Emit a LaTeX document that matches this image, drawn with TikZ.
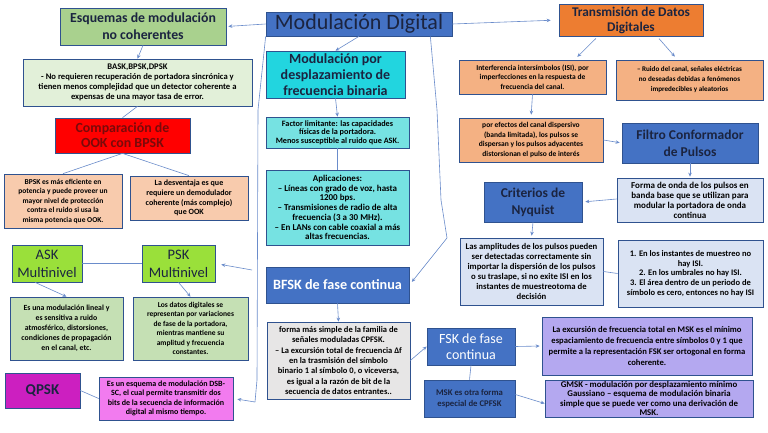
\documentclass[tikz,border=0pt]{standalone}
\usepackage{fontspec}
\setmainfont{Carlito}
\usetikzlibrary{arrows.meta,calc}
\definecolor{blue1}{HTML}{4472C4}
\definecolor{bord}{HTML}{2F528F}
\definecolor{connc}{HTML}{6A8CCB}
\definecolor{green1}{HTML}{A9D18E}
\definecolor{green2}{HTML}{E2F0D9}
\definecolor{green3}{HTML}{C5E0B4}
\definecolor{red1}{HTML}{FF0000}
\definecolor{maroon}{HTML}{7A0A0A}
\definecolor{peach}{HTML}{F8CBAD}
\definecolor{lime}{HTML}{9AE03A}
\definecolor{magenta1}{HTML}{CC1FC0}
\definecolor{pink1}{HTML}{F27BEF}
\definecolor{cyan1}{HTML}{22D5DF}
\definecolor{cyan2}{HTML}{76E2E2}
\definecolor{grey1}{HTML}{E7E6E6}
\definecolor{orange1}{HTML}{ED7D31}
\definecolor{orange2}{HTML}{F4B183}
\definecolor{lblue}{HTML}{DAE3F3}
\definecolor{lav}{HTML}{B4A8F0}
\definecolor{ink}{HTML}{1B2440}
\newcommand\mybox[7]{\node[#6, minimum width={(#4-#2)*1pt}, minimum height={(#5-#3)*1pt}] (#1) at ({(#2+#4)/2},{(#3+#5)/2}) {#7};}
\begin{document}
\begin{tikzpicture}[x=1pt,y=-1pt,
  box/.style={draw=bord, line width=0.7pt, inner sep=1pt, align=center, text=black},
  fs/.style 2 args={font=\fontsize{#1}{#2}\selectfont\bfseries},
  sm/.style={box, fs={7.5}{9.5}},
  hd/.style={box, font=\fontsize{13}{16}\selectfont\bfseries},
  conn/.style={draw=connc, line width=0.6pt},
  arr/.style={conn, -{Stealth[length=4pt,width=3.5pt]}}]
\fill[white] (0,0) rectangle (768,433);
\useasboundingbox (0,0) rectangle (768,433);

% left column
\mybox{md}{266}{12}{452}{36}{box, fill=blue1, text=ink, font=\fontsize{22}{24}\selectfont}{Modulación Digital}
\mybox{esq}{60}{8}{226}{45}{hd, fill=green1, text=ink, font=\fontsize{13.8}{17}\selectfont\bfseries}{Esquemas de modulación\\no coherentes}
\mybox{bask}{23}{59}{252}{106}{sm, fill=green2, fs={8.6}{10}}{BASK,BPSK,DPSK\\- No requieren recuperación de portadora sincrónica y\\tienen menos complejidad que un detector coherente a\\expensas de una mayor tasa de error.}
\mybox{comp}{55}{118}{190}{153}{box, fill=red1, text=maroon, font=\fontsize{13.9}{15}\selectfont\bfseries}{Comparación de\\OOK con BPSK}
\mybox{bpsk}{4}{174}{122}{228}{sm, fill=peach}{BPSK es más eficiente en\\potencia y puede proveer un\\mayor nivel de protección\\contra el ruido si usa la\\misma potencia que OOK.}
\mybox{desv}{130}{176}{248}{220}{sm, fill=peach, fs={8}{9.8}}{La desventaja es que\\requiere un demodulador\\coherente (más complejo)\\que OOK}
\mybox{ask}{12}{245}{82}{282}{box, fill=lime, text=ink, font=\fontsize{14.5}{18}\selectfont}{ASK\\Multinivel}
\mybox{psk}{142}{245}{215}{282}{box, fill=lime, text=ink, font=\fontsize{14.5}{18}\selectfont}{PSK\\Multinivel}
\mybox{askd}{10}{297}{123}{360}{sm, fill=green3, fs={7.8}{10}}{Es una modulación lineal y\\es sensitiva a ruido\\atmosférico, distorsiones,\\condiciones de propagación\\en el canal, etc.}
\mybox{pskd}{133}{297}{248}{360}{sm, fill=green3}{Los datos digitales se\\representan por variaciones\\de fase de la portadora,\\mientras mantiene su\\amplitud y frecuencia\\constantes.}
\mybox{qpsk}{5}{373}{80}{408}{box, fill=magenta1, text=ink, font=\fontsize{15}{16}\selectfont\bfseries}{QPSK}
\mybox{qpskd}{99}{377}{233}{420}{sm, fill=pink1, fs={8}{9.5}}{Es un esquema de modulación DSB-\\SC, el cual permite transmitir dos\\bits de la secuencia de información\\digital al mismo tiempo.}

% middle column
\mybox{mpd}{266}{51}{405}{98}{box, fill=cyan1, text=ink, inner sep=0pt, font=\fontsize{14}{15.8}\selectfont\bfseries}{Modulación por\\desplazamiento de\\frecuencia binaria}
\mybox{fac}{266}{117}{409}{148}{sm, fill=cyan2, fs={8.2}{8.6}}{Factor limitante: las capacidades\\físicas de la portadora.\\Menos susceptible al ruido que ASK.}
\mybox{apl}{266}{170}{409}{245}{sm, fill=cyan2, fs={9}{9.7}}{Aplicaciones:\\– Líneas con grado de voz, hasta\\1200 bps.\\– Transmisiones de radio de alta\\frecuencia (3 a 30 MHz).\\– En LANs con cable coaxial a más\\altas frecuencias.}
\mybox{bfsk}{266}{267}{409}{303}{box, fill=blue1, text=white, font=\fontsize{14.2}{16}\selectfont\bfseries}{BFSK de fase continua}
\mybox{fms}{267}{322}{410}{399}{sm, fill=grey1, fs={8.5}{10.4}}{forma más simple de la familia de\\señales moduladas CPFSK.\\– La excursión total de frecuencia Δf\\en la trasmisión del símbolo\\binario 1 al símbolo 0, o viceversa,\\es igual a la razón de bit de la\\secuencia de datos entrantes..}
\mybox{fsk}{427}{328}{515}{365}{box, fill=blue1, text=white, font=\fontsize{14}{16.5}\selectfont}{FSK de fase\\continua}
\mybox{msk}{424}{380}{515}{417}{sm, fill=blue1, text=ink, fs={8.7}{11}}{MSK es otra forma\\especial de CPFSK}

% right column
\mybox{tdd}{559}{4}{703}{36}{box, fill=orange1, text=ink, inner sep=0pt, font=\fontsize{13.3}{15}\selectfont\bfseries}{Transmisión de Datos\\Digitales}
\mybox{isi}{459}{60}{606}{94}{sm, fill=orange2}{Interferencia intersímbolos (ISI), por\\imperfecciones en la respuesta de\\frecuencia del canal.}
\mybox{ruido}{616}{60}{763}{100}{sm, fill=orange2, fs={7.1}{10}}{– Ruido del canal, señales eléctricas\\no deseadas debidas a fenómenos\\impredecibles y aleatorios}
\mybox{efec}{459}{118}{603}{162}{sm, fill=orange2}{por efectos del canal dispersivo\\(banda limitada), los pulsos se\\dispersan y los pulsos adyacentes\\distorsionan el pulso de interés}
\mybox{filtro}{622}{123}{758}{163}{box, fill=blue1, text=ink, font=\fontsize{13.5}{17}\selectfont\bfseries}{Filtro Conformador\\de Pulsos}
\mybox{onda}{617}{178}{763}{222}{sm, fill=lblue, fs={9}{10}}{Forma de onda de los pulsos en\\banda base que se utilizan para\\modular la portadora de onda\\continua}
\mybox{nyq}{484}{182}{582}{222}{box, fill=blue1, text=ink, font=\fontsize{13.5}{17}\selectfont\bfseries}{Criterios de\\Nyquist}
\mybox{ampl}{460}{238}{603}{305}{sm, fill=lblue, fs={8.7}{10}}{Las amplitudes de los pulsos pueden\\ser detectadas correctamente sin\\importar la dispersión de los pulsos\\o su traslape, si no exite ISI en los\\instantes de muestreotoma de\\decisión}
\mybox{inst}{618}{240}{763}{307}{sm, fill=lblue, fs={8.5}{9.8}}{1. En los instantes de muestreo no\\hay ISI.\\2. En los umbrales no hay ISI.\\3. El área dentro de un periodo de\\símbolo es cero, entonces no hay ISI}
\mybox{exc}{542}{317}{752}{375}{sm, fill=lav, fs={8.6}{11}}{La excursión de frecuencia total en MSK es el mínimo\\espaciamiento de frecuencia entre símbolos 0 y 1 que\\permite a la representación FSK ser ortogonal en forma\\coherente.}
\mybox{gmsk}{545}{380}{753}{417}{sm, fill=lav, inner sep=0pt, fs={8.8}{9.3}}{GMSK - modulación por desplazamiento mínimo\\Gaussiano – esquema de modulación binaria\\simple que se puede ver como una derivación de\\MSK.}

% waypoints
\coordinate (v1) at (258,110);
\coordinate (v2) at (257,380);
\coordinate (v3) at (255,402);
\coordinate (vb) at (252,270);
\coordinate (w1) at (437,110);
\coordinate (w2) at (441,200);
\coordinate (w3) at (447,238);

% connectors left
\draw[arr, shorten >=2pt] (md.west) -- (esq.east);
\draw[arr] (esq.south) -- (bask.north);
\draw[conn] (bask.south) -- (comp.north);
\draw[conn] (comp.south) -- (bpsk.north);
\draw[conn] (comp.south) -- (desv.north);
\draw[conn] (ask.east) -- (psk.west);
\draw[arr] ([xshift=-12pt]ask.south) -- (askd.north);
\draw[arr] (psk.south) -- (pskd.north);
\draw[conn] (qpsk.east) -- (qpskd.west);
\draw[conn] (md.south west) -- (v1) -- (v2) -- (v3);
\draw[arr, shorten >=4pt] (v3) -- (qpskd.east);
\draw[arr, shorten >=6pt] (vb) -- (psk.east);

% connectors middle
\draw[arr] (md.south) -- (mpd.north);
\draw[arr] (mpd.south) -- (fac.north);
\draw[conn] (fac.south) -- (apl.north);
\draw[arr] (bfsk.south) -- (fms.north);
\draw[conn] ([xshift=-22pt]md.south east) -- (w1) -- (w2) -- (w3);
\draw[arr, shorten >=4pt] (w3) -- (bfsk.east);
\draw[arr] (fms.east) -- (fsk.west);
\draw[conn] (fsk.south) -- (msk.north);
\draw[arr, shorten >=2pt] (fsk.east) -- (exc.west);
\draw[arr] ([yshift=4pt]msk.east) -- ([yshift=-5pt]gmsk.west);

% connectors right
\draw[arr, shorten >=8pt] (md.east) -- (tdd.west);
\draw[arr, shorten <=3pt, shorten >=4pt] ([xshift=-33pt]tdd.south) -- ([xshift=42pt]isi.north);
\draw[arr, shorten <=3pt, shorten >=4pt] ([xshift=26pt]tdd.south) -- ([xshift=-12pt]ruido.north);
\draw[arr, shorten >=3pt] (isi.south) -- (efec.north);
\draw[arr, shorten >=2pt] (efec.east) -- (filtro.west);
\draw[arr, shorten >=1pt] (filtro.south) -- (onda.north);
\draw[arr, shorten >=3pt] ([yshift=1pt]onda.west) -- (nyq.east);
\draw[arr, shorten >=2pt] (nyq.south) -- (ampl.north);
\draw[conn] (inst.west) -- (ampl.east);
\end{tikzpicture}
\end{document}
